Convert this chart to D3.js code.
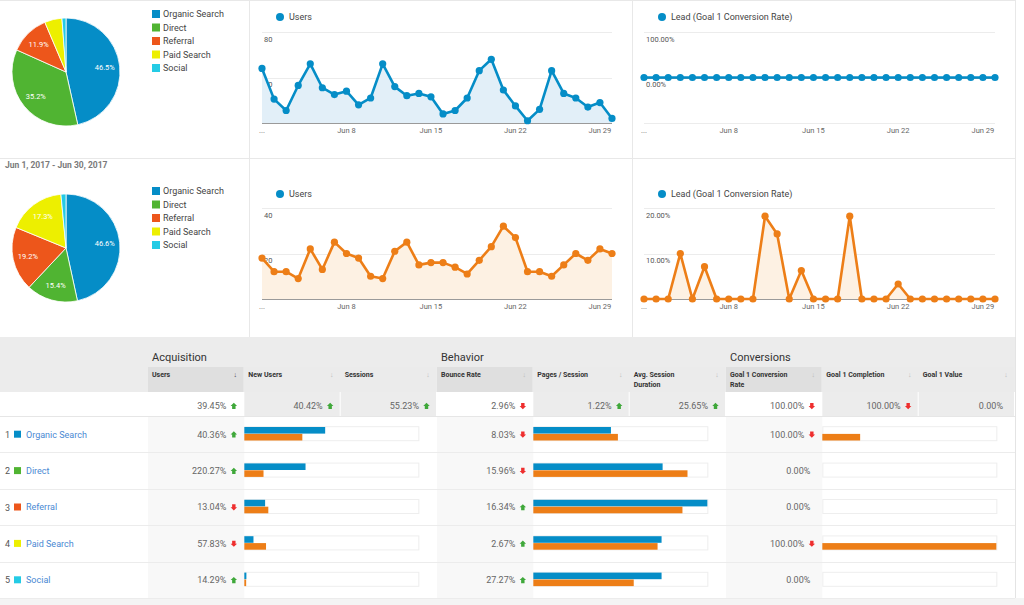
<!DOCTYPE html>
<html>
<head>
<meta charset="utf-8">
<script src="https://cdn.jsdelivr.net/npm/d3@7"></script>
<style>
  body { margin: 0; background: #fff; }
  svg { display: block; font-family: Roboto, Arial, sans-serif; }
</style>
</head>
<body>
<svg id="dash" width="1024" height="605"></svg>
<script>
// ---- data ----
const channels = ["Organic Search", "Direct", "Referral", "Paid Search", "Social"];
const channelColors = ["#058dc7", "#50b432", "#ed561b", "#edef00", "#24cbe5"];
const pieCurrent = [46.5, 35.2, 11.9, 5.2, 1.2];
const piePrevious = [46.6, 15.4, 19.2, 17.3, 1.5];

const usersDaily = [48, 21, 11, 33, 52, 31, 25, 28, 16, 22, 52, 32, 24, 26, 23, 8, 11, 22, 46, 56, 29, 15, 2, 12, 46, 26, 22, 14, 18, 4];
const usersDailyPrev = [18, 12, 12, 9, 22, 13, 25, 20, 18, 10, 9, 21, 25, 15, 16, 16, 14, 11, 17, 23, 32, 27, 12, 12, 10, 15, 20, 17, 22, 20];
const leadDaily = [0, 0, 0, 0, 0, 0, 0, 0, 0, 0, 0, 0, 0, 0, 0, 0, 0, 0, 0, 0, 0, 0, 0, 0, 0, 0, 0, 0, 0, 0];
const leadDailyPrev = [0, 0, 0, 10, 0, 7.1, 0, 0, 0, 0, 18.2, 14.3, 0, 6.25, 0, 0, 0, 18.2, 0, 0, 0, 3.3, 0, 0, 0, 0, 0, 0, 0, 0];
const xTickDays = [8, 15, 22, 29];

const groups = ["Acquisition", "Behavior", "Conversions"];
const headerLines = [["Users"], ["New Users"], ["Sessions"], ["Bounce Rate"], ["Pages / Session"],
  ["Avg. Session", "Duration"], ["Goal 1 Conversion", "Rate"], ["Goal 1 Completion"], ["Goal 1 Value"]];
const totalsChange = [39.45, 40.42, 55.23, -2.96, 1.22, 25.65, -100, -100, 0];

const usersCurrent = [354, 268, 91, 40, 9];
const usersPrevious = [254, 84, 105, 95, 8];
const usersChange = [40.36, 220.27, -13.04, -57.83, 14.29];
const bounceCurrent = [44.6, 74.3, 100, 73.7, 73.7];
const bouncePrevious = [48.6, 88.6, 85.7, 71.4, 57.7];
const bounceChange = [-8.03, -15.96, 16.34, 2.67, 27.27];
const convCurrent = [0, 0, 0, 0, 0];
const convPrevious = [1.18, 0, 0, 5.43, 0];
const convChange = [-100, 0, 0, -100, 0];

const BLUE = "#058dc7", ORANGE = "#ed7e17";
const svg = d3.select("#dash");

// ---- frame of the top two rows ----
const frame = svg.append("g").attr("stroke", "#e8e8e8").attr("stroke-width", 1);
[0.5, 158.5].forEach(y => frame.append("line").attr("x1", 0).attr("x2", 1016).attr("y1", y).attr("y2", y));
[249.5, 632.5, 1015.5].forEach(x => frame.append("line").attr("x1", x).attr("x2", x).attr("y1", 0).attr("y2", 337));

svg.append("text").attr("x", 5).attr("y", 168).attr("font-size", 8.5).attr("font-weight", "bold")
  .attr("fill", "#7a7a7a").text("Jun 1, 2017 - Jun 30, 2017");

// ---- pies ----
const drawPie = function (cx, cy, values, legendTop) {
  let g = svg.append("g").attr("transform", `translate(${cx},${cy})`);
  let arcs = d3.pie().sort(null).value(d => d)(values);
  let arc = d3.arc().innerRadius(0).outerRadius(54);
  let labelArc = d3.arc().innerRadius(39).outerRadius(39);
  g.selectAll("path").data(arcs).join("path")
    .attr("d", arc).attr("fill", (d, i) => channelColors[i])
    .attr("stroke", "#fff").attr("stroke-width", 0.8);
  g.selectAll("text").data(arcs.filter(d => d.data >= 10)).join("text")
    .attr("transform", d => `translate(${labelArc.centroid(d)})`)
    .attr("text-anchor", "middle").attr("dy", "0.35em")
    .attr("font-size", 7.5).attr("fill", "#fff")
    .text(d => d.data.toFixed(1) + "%");

  let lg = svg.append("g").attr("transform", `translate(152,${legendTop})`);
  let row = lg.selectAll("g").data(channels).join("g")
    .attr("transform", (d, i) => `translate(0,${i * 13.5})`);
  row.append("rect").attr("x", 0).attr("y", -4).attr("width", 8).attr("height", 8)
    .attr("fill", (d, i) => channelColors[i]);
  row.append("text").attr("x", 11).attr("y", 3.3).attr("font-size", 9).attr("fill", "#444").text(d => d);
}
drawPie(66, 72, pieCurrent, 14);
drawPie(66, 248, piePrevious, 191);

// ---- trend charts ----
const days = d3.timeDay.range(new Date(2017, 5, 1), new Date(2017, 6, 1));

const drawTrend = function (o) {
  let g = svg.append("g");
  let x = d3.scaleTime().domain([days[0], days[days.length - 1]]).range([o.x0, o.x1]);
  let y = d3.scaleLinear().domain(o.domain).range([o.yBase, o.yTop]);

  g.selectAll("line.grid").data(o.grid).join("line").attr("class", "grid")
    .attr("x1", o.x0).attr("x2", o.x1)
    .attr("y1", d => Math.round(y(d)) + 0.5).attr("y2", d => Math.round(y(d)) + 0.5)
    .attr("stroke", d => d === 0 ? "#9a9a9a" : "#ececec");
  g.selectAll("text.ylab").data(o.ticks).join("text").attr("class", "ylab")
    .attr("x", o.x0 + 2).attr("y", d => y(d) + 9.5)
    .attr("font-size", 7.5).attr("fill", "#555").text(o.fmt);

  let xl = g.append("g").attr("font-size", 7.5).attr("fill", "#666").attr("text-anchor", "middle");
  xl.append("text").attr("x", x(days[0])).attr("y", o.axisY + 10).text("...");
  xl.selectAll("text.tick").data(xTickDays.map(d => days[d - 1])).join("text").attr("class", "tick")
    .attr("x", d => x(d)).attr("y", o.axisY + 10).text(d3.timeFormat("%b %-d"));

  let area = d3.area().x((d, i) => x(days[i])).y0(y(0)).y1(d => y(d));
  let line = d3.line().x((d, i) => x(days[i])).y(d => y(d));
  g.append("path").attr("d", area(o.values)).attr("fill", o.fill);
  g.append("path").attr("d", line(o.values)).attr("fill", "none")
    .attr("stroke", o.color).attr("stroke-width", 2.6).attr("stroke-linejoin", "round");
  g.selectAll("circle").data(o.values).join("circle")
    .attr("cx", (d, i) => x(days[i])).attr("cy", d => y(d)).attr("r", 3.6).attr("fill", o.color);

  g.append("circle").attr("cx", o.x0 + 18).attr("cy", o.legendY).attr("r", 4).attr("fill", BLUE);
  g.append("text").attr("x", o.x0 + 27).attr("y", o.legendY + 3.3).attr("font-size", 9)
    .attr("fill", "#444").text(o.legend);
}

const fmtPct = d => d.toFixed(2) + "%";
drawTrend({ x0: 262, x1: 612, yTop: 32, yBase: 123, axisY: 123, domain: [0, 80], grid: [0, 40, 80], ticks: [40, 80],
  fmt: d => d, values: usersDaily, color: BLUE, fill: "#e2eff8", legend: "Users", legendY: 17 });
drawTrend({ x0: 644, x1: 995, yTop: 32, yBase: 123, axisY: 123, domain: [-100, 100], grid: [-100, 0, 100], ticks: [0, 100],
  fmt: fmtPct, values: leadDaily, color: BLUE, fill: "#e2eff8", legend: "Lead (Goal 1 Conversion Rate)", legendY: 17 });
drawTrend({ x0: 262, x1: 612, yTop: 208, yBase: 299, axisY: 299, domain: [0, 40], grid: [0, 20, 40], ticks: [20, 40],
  fmt: d => d, values: usersDailyPrev, color: ORANGE, fill: "#fdf1e3", legend: "Users", legendY: 194 });
drawTrend({ x0: 644, x1: 995, yTop: 208, yBase: 299, axisY: 299, domain: [0, 20], grid: [0, 10, 20], ticks: [10, 20],
  fmt: fmtPct, values: leadDailyPrev, color: ORANGE, fill: "#fdf1e3", legend: "Lead (Goal 1 Conversion Rate)", legendY: 194 });

// ---- table ----
const col = d3.scaleBand().domain(d3.range(9)).range([148, 1015]);
const cw = col.bandwidth();
const rowY = d3.scaleBand().domain(channels).range([416, 598]);
const rh = rowY.bandwidth();
const isPrimary = i => i % 3 === 0;
const tb = svg.append("g");

tb.append("rect").attr("x", 0).attr("y", 337).attr("width", 1015).attr("height", 55).attr("fill", "#ececec");
tb.append("rect").attr("x", 0).attr("y", 598).attr("width", 1024).attr("height", 7).attr("fill", "#f4f4f4");

// header cells
tb.selectAll("rect.hcell").data(d3.range(9)).join("rect").attr("class", "hcell")
  .attr("x", i => col(i)).attr("y", 367).attr("width", cw - 1).attr("height", 25)
  .attr("fill", i => isPrimary(i) ? "#dfdfdf" : "#ebebeb");
tb.selectAll("rect.tcell").data(d3.range(9)).join("rect").attr("class", "tcell")
  .attr("x", i => col(i)).attr("y", 392).attr("width", cw - 1).attr("height", 24)
  .attr("fill", i => isPrimary(i) ? "#fff" : "#ececec");
tb.selectAll("rect.vcol").data([0, 3, 6]).join("rect").attr("class", "vcol")
  .attr("x", i => col(i)).attr("y", 416).attr("width", cw).attr("height", 182).attr("fill", "#f8f8f8");
tb.selectAll("line.rsep").data(channels).join("line").attr("class", "rsep")
  .attr("x1", 0).attr("x2", 1015)
  .attr("y1", d => Math.round(rowY(d) + rh) + 0.5).attr("y2", d => Math.round(rowY(d) + rh) + 0.5)
  .attr("stroke", "#ececec");
tb.append("line").attr("x1", 0).attr("x2", 1015).attr("y1", 416.5).attr("y2", 416.5).attr("stroke", "#e6e6e6");

tb.selectAll("text.group").data(groups).join("text").attr("class", "group")
  .attr("x", (d, i) => col(i * 3) + 4).attr("y", 361).attr("font-size", 11).attr("fill", "#333").text(d => d);

let hdr = tb.selectAll("g.hdr").data(headerLines).join("g").attr("class", "hdr")
  .attr("transform", (d, i) => `translate(${col(i) + 4},377)`);
hdr.selectAll("text").data(d => d).join("text")
  .attr("x", 0).attr("y", (d, i) => i * 9.5).attr("font-size", 7).attr("font-weight", "bold")
  .attr("fill", "#333").text(d => d);
tb.selectAll("text.sort").data(d3.range(9)).join("text").attr("class", "sort")
  .attr("x", i => col(i) + cw - 9).attr("y", 377).attr("font-size", 7).attr("text-anchor", "middle")
  .attr("fill", i => i === 0 ? "#444" : "#bbb").text("\u2193");

const arrow = function (g, x, y, v, s) {
  if (v === 0) return;
  let up = v > 0;
  g.append("path")
    .attr("d", "M0,-3.3L3.4,0L1.8,0L1.8,3.2L-1.8,3.2L-1.8,0L-3.4,0Z")
    .attr("transform", `translate(${x},${y}) scale(${s}) rotate(${up ? 0 : 180})`)
    .attr("fill", up ? "#3fa83a" : "#ee2e2e");
}
const changeText = function (g, right, y, v) {
  g.append("text").attr("x", v === 0 ? right + 6 : right).attr("y", y).attr("text-anchor", "end")
    .attr("font-size", 9).attr("fill", "#666").text(Math.abs(v).toFixed(2) + "%");
  arrow(g, right + 7.5, y - 3, v, v === 0 ? 1 : 0.95);
}

// totals row
totalsChange.forEach((v, i) => changeText(tb, col(i) + cw - 18, 409, v));

// channel labels
let rows = tb.selectAll("g.row").data(channels).join("g").attr("class", "row")
  .attr("transform", d => `translate(0,${rowY(d) + rh / 2})`);
rows.append("text").attr("x", 5).attr("y", 3.5).attr("font-size", 9).attr("fill", "#555").text((d, i) => i + 1);
rows.append("rect").attr("x", 14).attr("y", -3.5).attr("width", 7).attr("height", 7)
  .attr("fill", (d, i) => channelColors[i]);
rows.append("text").attr("x", 26).attr("y", 3.3).attr("font-size", 9).attr("fill", "#4a89d3").text(d => d);

// bars per group
const barW = 174;
const metricSets = [
  { start: 0, cur: usersCurrent, prev: usersPrevious, change: usersChange,
    x: d3.scaleLinear().domain([0, d3.sum(usersCurrent)]).range([0, barW]) },
  { start: 3, cur: bounceCurrent, prev: bouncePrevious, change: bounceChange,
    x: d3.scaleLinear().domain([0, 100]).range([0, barW]) },
  { start: 6, cur: convCurrent, prev: convPrevious, change: convChange,
    x: d3.scaleLinear().domain([0, d3.max(convPrevious)]).range([0, barW]) }
];
metricSets.forEach(m => {
  let bx = col(m.start + 1);
  channels.forEach((c, i) => {
    let cy = rowY(c) + rh / 2;
    changeText(tb, col(m.start) + cw - 18, cy + 3.3, m.change[i]);
    tb.append("rect").attr("x", bx + 0.5).attr("y", cy - 7.5).attr("width", barW).attr("height", 14)
      .attr("fill", "#fff").attr("stroke", "#eeeeee");
    tb.append("rect").attr("x", bx).attr("y", cy - 7.2).attr("width", m.x(m.cur[i])).attr("height", 6.6)
      .attr("fill", BLUE);
    tb.append("rect").attr("x", bx).attr("y", cy - 0.3).attr("width", m.x(m.prev[i])).attr("height", 6.6)
      .attr("fill", ORANGE);
  });
});
tb.append("line").attr("x1", 1015.5).attr("x2", 1015.5).attr("y1", 337).attr("y2", 598).attr("stroke", "#e4e4e4");
</script>
</body>
</html>
